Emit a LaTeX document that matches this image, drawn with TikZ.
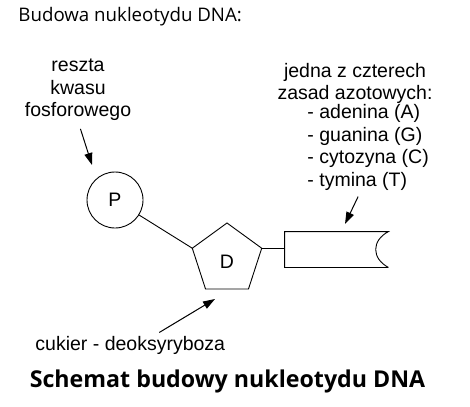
\documentclass[tikz,border=0pt]{standalone}
\usepackage{fontspec}
\setmainfont{Liberation Sans}
\newfontfamily\titlefont{Open Sans}
\usepackage{tikz}
\usetikzlibrary{arrows.meta,shapes.geometric,positioning}

\begin{document}
\begin{tikzpicture}[x=1pt, y=-1pt, line width=0.9pt,
  every node/.style={font=\fontsize{19.5}{22.5}\selectfont, inner sep=0pt},
  label/.style={align=center},
  part/.style={draw, fill=white, outer sep=0pt},
  pointer/.style={-{Triangle[length=12pt,width=8pt]}, line width=1pt}]
\useasboundingbox (0,0) rectangle (470,406);
% headings
\node[anchor=west, font=\titlefont\fontsize{18.7}{21}\selectfont] (heading) at (18,17) {Budowa nukleotydu DNA:};
\node[font=\titlefont\bfseries\fontsize{23.2}{27}\selectfont] (caption) at (227.5,381) {Schemat budowy nukleotydu DNA};
% nucleotide parts
\node[part, circle, minimum size=56pt] (P) at (115,200) {P};
\node[part, regular polygon, regular polygon sides=5, minimum size=73pt, inner sep=0pt] (D) at (227,259.5) {};
\node at (227,262) {D};
\node[minimum width=103pt, minimum height=35pt] (base) at (336.5,249.5) {};
\draw (base.south east) -- (base.south west) -- (base.north west) -- (base.north east)
  .. controls +(-17,9) and +(-17,-9) .. (base.south east);
\draw (P) -- (D.corner 2);
\draw (D.corner 5) -- (D.corner 5 -| base.west);
% labels
\node[label] (phos) at (78,90) {reszta\\kwasu\\fosforowego};
\node[label] (basehead) at (355,83.5) {jedna z czterech\\zasad azotowych:};
\node[align=left, anchor=north west] (baselist) at (307,104) {- adenina (A)\\- guanina (G)\\- cytozyna (C)\\- tymina (T)};
\node[anchor=west] (sugar) at (35,345) {cukier - deoksyryboza};
\coordinate (phostip) at (92,165);
\coordinate (basetip) at (345,224);
\coordinate (sugartip) at (215,299);
\draw[pointer, shorten <=8pt] (phos.south) -- (phostip);
\draw[pointer] ([xshift=-10pt,yshift=-6pt]baselist.south) -- (basetip);
\draw[pointer] ([xshift=29pt,yshift=3pt]sugar.north) -- (sugartip);
\end{tikzpicture}
\end{document}
